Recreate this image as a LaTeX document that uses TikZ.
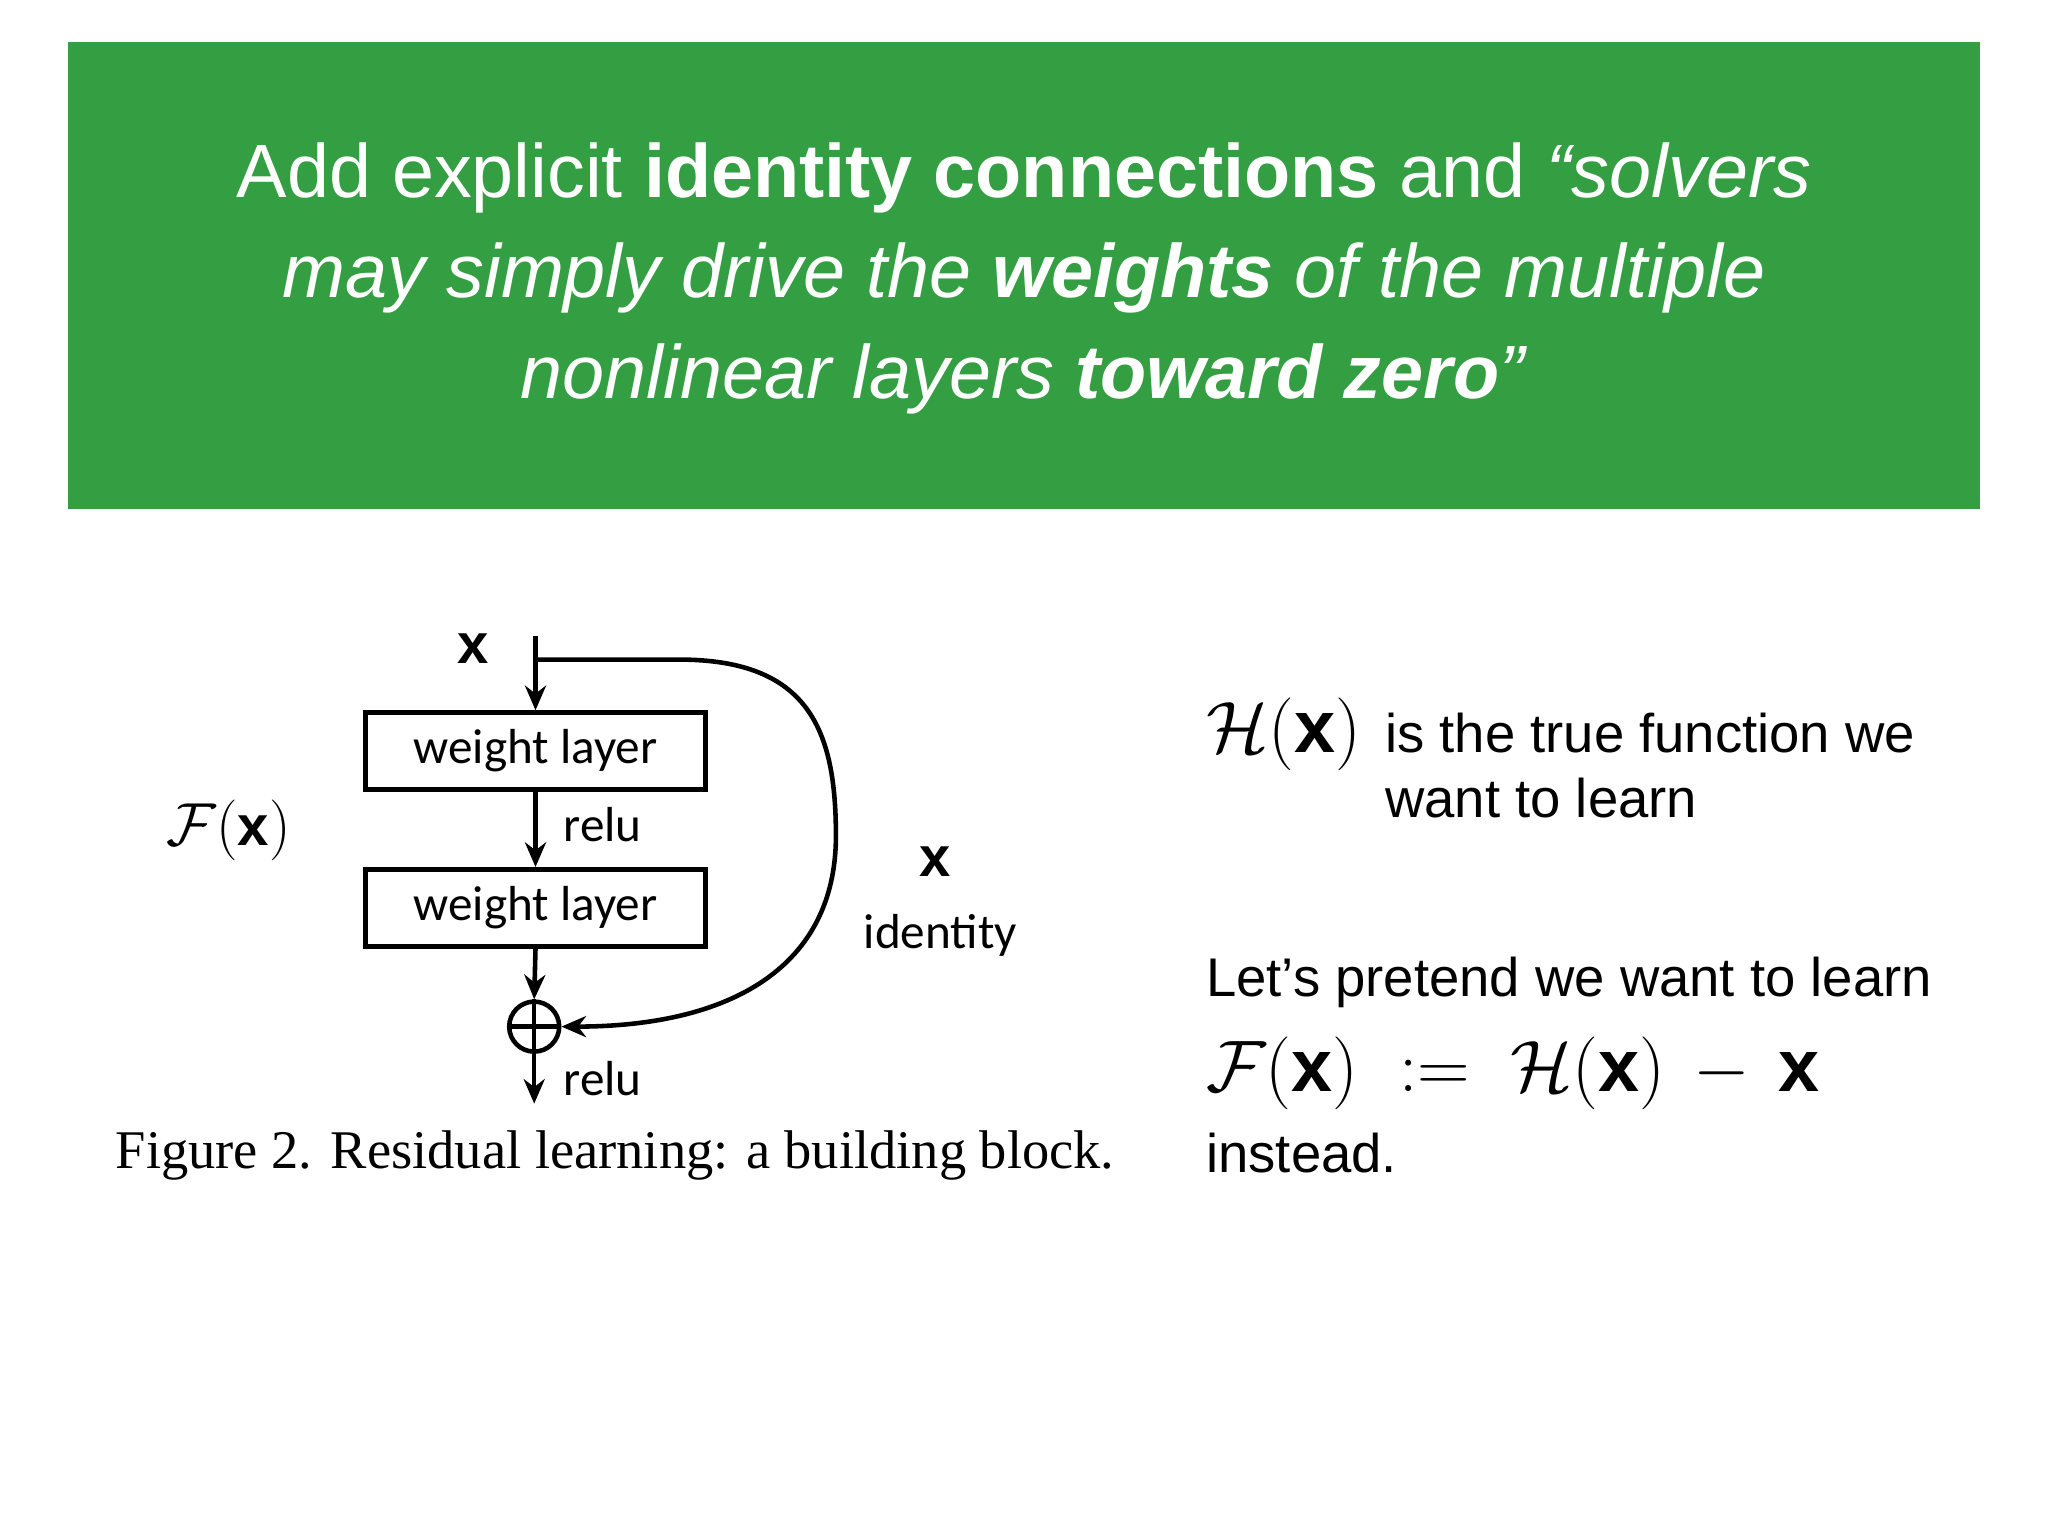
\documentclass[tikz,border=0pt]{standalone}
\usepackage{fontspec}
\usepackage{amsmath}
\setmainfont{Liberation Sans}
\newfontfamily\capfont{Liberation Serif}
\newfontfamily\boxfont{Carlito}
\usetikzlibrary{arrows.meta}
\definecolor{bannergreen}{RGB}{52,158,66}
\tikzset{
  x=0.01306cm,y=-0.01306cm,
  wbox/.style={draw,line width=1.3pt,minimum width=260\pgflinewidth*0+3.395cm,minimum height=0.77cm,font=\boxfont\fontsize{14}{16}\selectfont},
  flow/.style={line width=1.3pt,-{Stealth[length=7pt,width=6pt]}},
  lbl/.style={font=\boxfont\fontsize{14}{16}\selectfont,anchor=west},
  rtext/.style={anchor=base west,font=\fontsize{15.5}{18}\selectfont},
}
\begin{document}
\begin{tikzpicture}
\useasboundingbox (0,0) rectangle (1568,1176);
\fill[bannergreen] (52,32) rectangle (1516,390);
\node[text=white,align=center,font=\fontsize{21.5}{28.6}\selectfont] (title) at (784,213)
 {Add explicit \textbf{identity connections} and \textit{“solvers}\\
  \textit{may simply drive the \textbf{weights} of the multiple}\\
  \textit{nonlinear layers \textbf{toward zero}”}};
% diagram
\coordinate (top) at (410,487);
\coordinate (split) at (410,505);
\node (x1) at (362,497) {\fontsize{16}{18}\selectfont$\mathbf{x}$};
\node[wbox] (b1) at (410,575) {weight layer};
\node[wbox] (b2) at (410,695) {weight layer};
\node[draw,circle,line width=1.3pt,minimum size=0.5cm,inner sep=0pt] (plus) at (409,786) {};
\draw[line width=1.3pt] (plus.north) -- (plus.south) (plus.west) -- (plus.east);
\coordinate (out) at (409,845);
\draw[flow] (top) -- (b1.north);
\draw[flow] (b1.south) -- (b2.north);
\draw[flow] (b2.south) -- (plus.north);
\draw[flow] (plus.south) -- (out);
\draw[flow] (split) -- (520,505) .. controls (620,505) and (640,560) .. (640,640)
  .. controls (640,740) and (560,786) .. (plus.east);
\node[lbl] (r1) at (422,631) {relu};
\node[lbl] (r2) at (422,826) {relu};
\node (x2) at (716,660) {\fontsize{16}{18}\selectfont$\mathbf{x}$};
\node[font=\boxfont\fontsize{14}{16}\selectfont] (id) at (720,716) {identity};
\node (fx) at (175,636) {\fontsize{16}{18}\selectfont$\mathcal{F}(\mathbf{x})$};
\node[font=\capfont\fontsize{15.5}{18}\selectfont] (cap) at (471,885) {Figure 2. Residual learning: a building block.};
% right text
\node[anchor=base west,inner sep=0pt] (hx) at (923,576) {\fontsize{21}{24}\selectfont$\mathcal{H}(\mathbf{x})$};
\node[rtext,inner sep=0pt] (t1) at (1060,576) {is the true function we};
\node[rtext,inner sep=0pt] (t2) at (1060,626) {want to learn};
\node[rtext,inner sep=0pt] (t3) at (923,763) {Let’s pretend we want to learn};
\node[anchor=base west,inner sep=0pt] (eq) at (923,836) {\fontsize{21}{24}\selectfont$\mathcal{F}(\mathbf{x})\;:=\;\mathcal{H}(\mathbf{x})\,-\,\mathbf{x}$};
\node[rtext,inner sep=0pt] (t4) at (923,898) {instead.};
\end{tikzpicture}
\end{document}
